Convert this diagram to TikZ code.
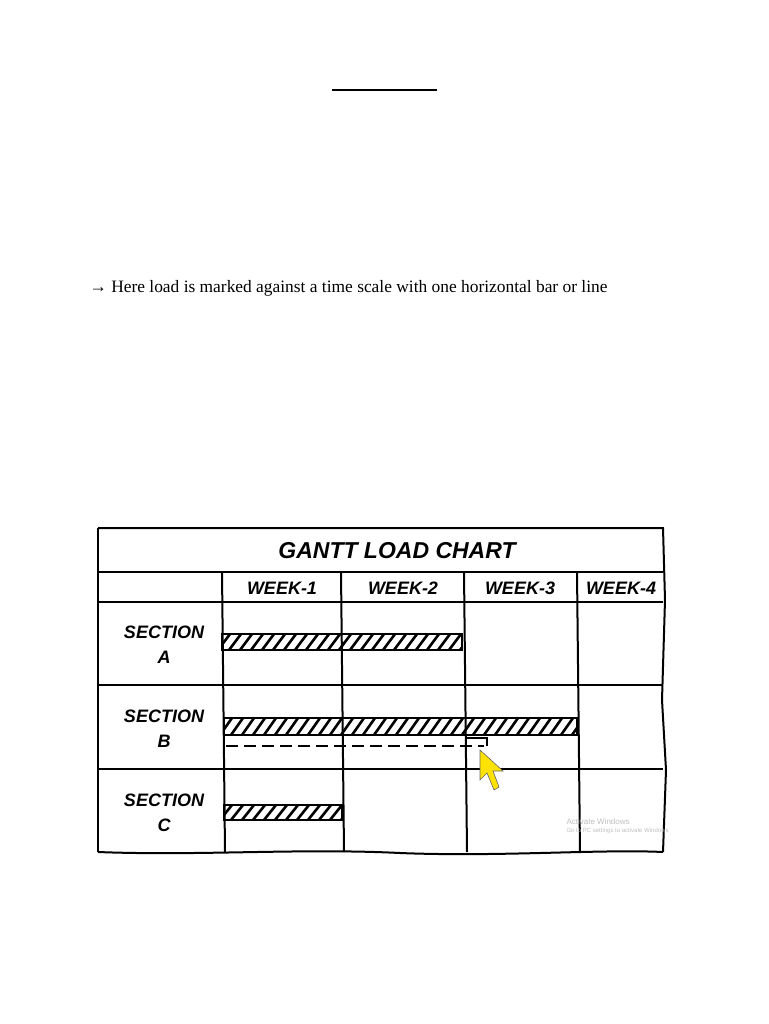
\documentclass[tikz,border=0pt]{standalone}
\usepackage{fontspec}
\setmainfont{Liberation Serif}
\newfontfamily\chartfont{Liberation Sans}
\begin{document}
\begin{tikzpicture}[x=1pt,y=-1pt,
  grid/.style={line width=2pt,black},
  lbl/.style={font=\chartfont\bfseries\itshape\fontsize{18}{20}\selectfont,align=center},
  hatchbar/.style={line width=1.8pt}]
\useasboundingbox (0,0) rectangle (768,1024);
\draw[line width=1.2pt] (332,90) -- (437,90);
\node[anchor=west,font=\fontsize{17.4}{19}\selectfont] (txt) at (86,288) {→ Here load is marked against a time scale with one horizontal bar or line};
% chart frame
\draw[grid] (98,528) -- (663,528) -- (665,600) -- (662,700) -- (666,770) -- (663,852);
\draw[grid] (98,528) -- (98,852);
\draw[grid] (98,852) .. controls (200,856) and (300,848) .. (400,853) .. controls (500,857) and (600,849) .. (663,852);
\draw[grid] (98,572) -- (663,572);
\draw[grid] (98,602) -- (663,602);
\draw[grid] (98,685) -- (663,685);
\draw[grid] (98,769) -- (663,769);
\foreach \x/\n in {222/c1,341/c2,464/c3,577/c4}{
  \draw[grid] (\x,572) -- (\x+3,852);
}
\node[lbl,font=\chartfont\bfseries\itshape\fontsize{23}{25}\selectfont] (title) at (397,551) {GANTT LOAD CHART};
\node[lbl] (w1) at (282,588) {WEEK-1};
\node[lbl] (w2) at (403,588) {WEEK-2};
\node[lbl] (w3) at (520,588) {WEEK-3};
\node[lbl] (w4) at (621,588) {WEEK-4};
\node[lbl,font=\chartfont\bfseries\itshape\fontsize{18}{25}\selectfont] (sa) at (164,645) {SECTION\\A};
\node[lbl,font=\chartfont\bfseries\itshape\fontsize{18}{25}\selectfont] (sb) at (164,729) {SECTION\\B};
\node[lbl,font=\chartfont\bfseries\itshape\fontsize{18}{25}\selectfont] (sc) at (164,813) {SECTION\\C};
% bars
\foreach \xa/\xb/\ya/\yb in {222/462/634/650, 224/577/718/735, 224/342/805/820}{
  \begin{scope}
    \clip (\xa,\ya) rectangle (\xb,\yb);
    \foreach \k in {0,11,...,400}{
      \draw[line width=2.6pt] (\xa+\k-4,\yb) -- (\xa+\k+8,\ya);
    }
  \end{scope}
  \draw[hatchbar] (\xa,\ya) rectangle (\xb,\yb);
}
\draw[line width=2pt,dash pattern=on 12pt off 6pt] (226,746) -- (484,746);
\draw[line width=1.2pt] (466,738) -- (487,738) -- (487,746);
% cursor
\fill[yellow!85!orange,draw=black!60,line width=0.6pt] (480,750) -- (480,780) -- (487,773) -- (494,790) -- (499,787) -- (493,771) -- (503,771) -- cycle;
\node[text=black!25,font=\chartfont\fontsize{8}{9}\selectfont,anchor=west,align=left] (wm) at (563,826) {Activate Windows\\[-1pt]{\fontsize{6}{7}\selectfont Go to PC settings to activate Windows}};
\end{tikzpicture}
\end{document}
